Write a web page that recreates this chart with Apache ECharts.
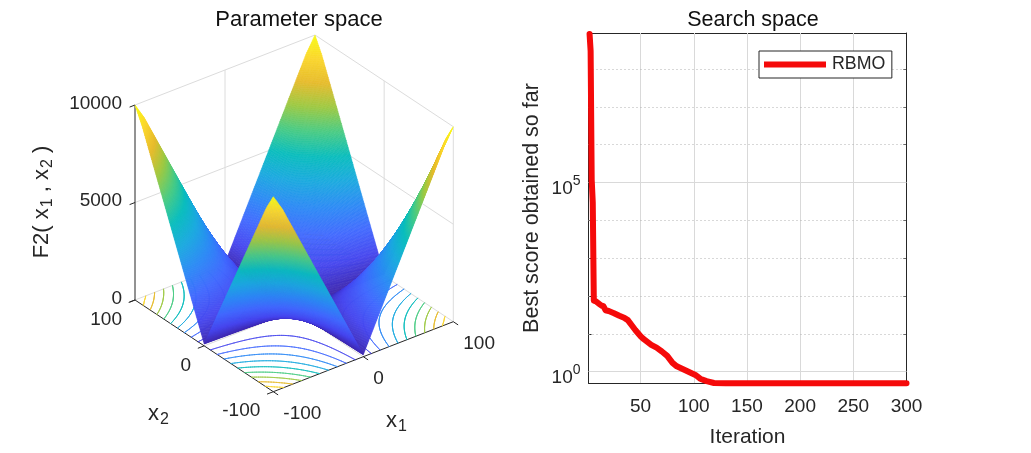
<!DOCTYPE html>
<html>
<head>
<meta charset="utf-8">
<style>html,body{margin:0;padding:0;background:#fff}#main{width:1031px;height:453px}</style>
<script src="https://cdn.jsdelivr.net/npm/echarts@6/dist/echarts.min.js"></script>
</head>
<body>
<div id="main"></div>
<script>
// surface heights for one quadrant, indexed by |x1| and |x2|
const gridStep = [0, 10, 20, 30, 40, 50, 60, 70, 80, 90, 100];
const surfaceZ = [
  [0, 10, 20, 30, 40, 50, 60, 70, 80, 90, 100],
  [10, 120, 230, 340, 450, 560, 670, 780, 890, 1000, 1110],
  [20, 230, 440, 650, 860, 1070, 1280, 1490, 1700, 1910, 2120],
  [30, 340, 650, 960, 1270, 1580, 1890, 2200, 2510, 2820, 3130],
  [40, 450, 860, 1270, 1680, 2090, 2500, 2910, 3320, 3730, 4140],
  [50, 560, 1070, 1580, 2090, 2600, 3110, 3620, 4130, 4640, 5150],
  [60, 670, 1280, 1890, 2500, 3110, 3720, 4330, 4940, 5550, 6160],
  [70, 780, 1490, 2200, 2910, 3620, 4330, 5040, 5750, 6460, 7170],
  [80, 890, 1700, 2510, 3320, 4130, 4940, 5750, 6560, 7370, 8180],
  [90, 1000, 1910, 2820, 3730, 4640, 5550, 6460, 7370, 8280, 9190],
  [100, 1110, 2120, 3130, 4140, 5150, 6160, 7170, 8180, 9190, 10000]
];
const contourLevels = [1000, 2000, 3000, 4000, 5000, 6000, 7000, 8000, 9000];
const zTicks = [0, 5000, 10000];
const floorTicks = [-100, 0, 100];
const parula = [[62, 38, 168], [71, 71, 238], [66, 105, 254], [45, 137, 245], [28, 169, 223], [11, 189, 189],
  [74, 203, 132], [157, 201, 67], [230, 187, 45], [250, 214, 45], [249, 251, 21]];

// convergence curve
const iterations = [2, 3, 4, 5, 6, 8, 11, 13, 15, 17, 20, 25, 30, 35, 38, 45, 50, 53, 60, 65, 70, 75, 80, 84, 90, 97, 102, 106, 112, 119, 130, 300];
const bestScore = [8.5e8, 3e8, 1.2e5, 3e4, 75, 72, 62, 56, 54, 42, 40, 35, 30, 26, 23, 12.6, 8.6, 7.2, 5.1, 4.3, 3.4, 2.6, 1.7, 1.38, 1.15, 0.93, 0.8, 0.65, 0.56, 0.5, 0.49, 0.49];
const xTicks = [50, 100, 150, 200, 250, 300];
const yDecades = [1, 10, 100, 1e3, 1e4, 1e5, 1e6, 1e7, 1e8];
const yLabelled = [1, 1e5];

const FONT = '"Liberation Sans", Arial, sans-serif';
const TEXT = '#262626';

// orthographic view, in pixels of the hidden grid
function project(x1, x2, z) {
  return [
    273.3 + (x1 + 100) * 0.9 - (x2 + 100) * 0.6915,
    391.7 - (x1 + 100) * 0.35 - (x2 + 100) * 0.4585 - z * 0.0195
  ];
}

function tableZ(x1, x2) {
  const a = Math.abs(x1) / 10, b = Math.abs(x2) / 10;
  const i = Math.min(Math.floor(a), gridStep.length - 2), j = Math.min(Math.floor(b), gridStep.length - 2);
  const u = a - i, v = b - j;
  return surfaceZ[i][j] * (1 - u) * (1 - v) + surfaceZ[i + 1][j] * u * (1 - v) +
    surfaceZ[i][j + 1] * (1 - u) * v + surfaceZ[i + 1][j + 1] * u * v;
}

function colorOf(z) {
  const t = Math.max(0, Math.min(1, z / 10000)) * (parula.length - 1);
  const i = Math.min(Math.floor(t), parula.length - 2), f = t - i;
  const c = parula[i].map((p, k) => Math.round(p + (parula[i + 1][k] - p) * f));
  return 'rgb(' + c.join(',') + ')';
}

// facets, far corner first so nearer ones paint over them
const nodes = [];
for (let v = 100; v >= -100; v -= 1) nodes.push(v);
const facets = [];
for (let i = 0; i < nodes.length - 1; i++) {
  for (let j = 0; j < nodes.length - 1; j++) {
    facets.push([nodes[i], nodes[i + 1], nodes[j], nodes[j + 1]]);
  }
}

// contour segments on the floor
const contourSegs = [];
function edgePoint(a, b, za, zb, level) {
  const t = (level - za) / (zb - za);
  return [a[0] + (b[0] - a[0]) * t, a[1] + (b[1] - a[1]) * t];
}
contourLevels.forEach(level => {
  facets.forEach(f => {
    const p = [[f[0], f[2]], [f[1], f[2]], [f[1], f[3]], [f[0], f[3]]];
    const z = p.map(q => tableZ(q[0], q[1]));
    const hits = [];
    for (let k = 0; k < 4; k++) {
      const n = (k + 1) % 4;
      if ((z[k] < level) !== (z[n] < level)) hits.push(edgePoint(p[k], p[n], z[k], z[n], level));
    }
    if (hits.length >= 2) contourSegs.push([hits[0][0], hits[0][1], hits[1][0], hits[1][1], level]);
  });
});

// box: [x1, x2, z, x1, x2, z, dark]
const frameSegs = [
  [-100, 100, 10000, 100, 100, 10000, 0], [100, 100, 10000, 100, -100, 10000, 0],
  [-100, 100, 5000, 100, 100, 5000, 0], [100, 100, 5000, 100, -100, 5000, 0],
  [0, 100, 0, 0, 100, 10000, 0], [100, 0, 0, 100, 0, 10000, 0],
  [100, 100, 0, 100, 100, 10000, 0], [100, -100, 0, 100, -100, 10000, 0],
  [-100, 100, 0, 100, 100, 0, 0], [100, 100, 0, 100, -100, 0, 0],
  [0, -100, 0, 0, 100, 0, 0], [-100, 0, 0, 100, 0, 0, 0],
  [-100, 100, 0, -100, 100, 10000, 1],
  [-100, -100, 0, 100, -100, 0, 1], [-100, -100, 0, -100, 100, 0, 1]
];
zTicks.forEach(z => frameSegs.push([-100, 100, z, -106, 100, z, 1]));
floorTicks.forEach(v => {
  frameSegs.push([v, -100, 0, v, -107, 0, 1]);
  frameSegs.push([-100, v, 0, -107, v, 0, 1]);
});

// tick labels: [text, x1, x2, z, dx, dy, align]
const tickTexts = [];
zTicks.forEach(z => tickTexts.push([String(z), -100, 100, z, -13, -1.5, 'right']));
floorTicks.forEach(v => {
  tickTexts.push([String(v), -100, v, 0, -13, 19.5, 'right']);
  tickTexts.push([String(v), v, -100, 0, 10, 22, 'left']);
});

const subRich = {
  a: { fontFamily: FONT, fontSize: 22, color: TEXT },
  s: { fontFamily: FONT, fontSize: 16, color: TEXT, padding: [11, 0, 0, 1] }
};

const option = {
  animation: false,
  backgroundColor: '#fff',
  textStyle: { fontFamily: FONT },
  title: [
    { text: 'Parameter space', left: 294, top: 4, textAlign: 'center', textStyle: { fontFamily: FONT, fontSize: 22, fontWeight: 'normal', color: '#111' } },
    { text: 'Search space', left: 748, top: 4, textAlign: 'center', textStyle: { fontFamily: FONT, fontSize: 21.5, fontWeight: 'normal', color: '#111' } }
  ],
  legend: {
    left: 759, top: 51, orient: 'vertical', padding: [4.5, 6.5, 4.5, 5],
    data: [{ name: 'RBMO', icon: 'rect' }],
    itemWidth: 62, itemHeight: 6, itemGap: 0,
    borderColor: '#262626', borderWidth: 1, backgroundColor: '#fff',
    textStyle: { fontFamily: FONT, fontSize: 17.8, color: TEXT, padding: [0, 0, 0, 1] }
  },
  grid: [
    { left: 0, top: 0, width: 500, height: 453, show: false },
    { left: 588.5, top: 33, width: 318, height: 358, show: false }
  ],
  xAxis: [
    { gridIndex: 0, type: 'value', min: 0, max: 500, show: false },
    {
      gridIndex: 1, type: 'value', min: 1, max: 300, position: 'bottom',
      name: 'Iteration', nameLocation: 'middle', nameGap: 44,
      nameTextStyle: { fontFamily: FONT, fontSize: 21, color: TEXT },
      axisLine: { onZero: false, lineStyle: { color: TEXT, width: 1 } },
      axisTick: { inside: true, length: 3, customValues: xTicks, lineStyle: { color: TEXT } },
      axisLabel: { customValues: xTicks, margin: 14, fontFamily: FONT, fontSize: 19, color: TEXT },
      splitLine: { show: false }
    },
    {
      gridIndex: 1, type: 'value', min: 1, max: 300, position: 'top',
      axisLine: { onZero: false, lineStyle: { color: TEXT, width: 1 } },
      axisTick: { inside: true, length: 3, customValues: xTicks, lineStyle: { color: TEXT } },
      axisLabel: { show: false }, splitLine: { show: false }
    }
  ],
  yAxis: [
    { gridIndex: 0, type: 'value', min: 0, max: 453, inverse: true, show: false },
    {
      gridIndex: 1, type: 'log', logBase: 10, min: 0.5, max: 9e8, position: 'left',
      name: 'Best score obtained so far', nameLocation: 'middle', nameGap: 45,
      nameTextStyle: { fontFamily: FONT, fontSize: 21.5, color: TEXT },
      axisLine: { onZero: false, show: true, lineStyle: { color: TEXT, width: 1 } },
      axisTick: { show: true, inside: true, length: 3, customValues: yDecades, lineStyle: { color: TEXT } },
      axisLabel: {
        customValues: yLabelled, margin: 8,
        formatter: v => '{b|10}{e|' + Math.round(Math.log10(v)) + '}',
        rich: {
          b: { fontFamily: FONT, fontSize: 19, color: TEXT, padding: [12, 0, 0, 0] },
          e: { fontFamily: FONT, fontSize: 14, color: TEXT, padding: [0, 0, 3, 0] }
        }
      },
      splitLine: { show: false }
    },
    {
      gridIndex: 1, type: 'log', logBase: 10, min: 0.5, max: 9e8, position: 'right',
      axisLine: { onZero: false, show: true, lineStyle: { color: TEXT, width: 1 } },
      axisTick: { show: true, inside: true, length: 3, customValues: yDecades, lineStyle: { color: TEXT } },
      axisLabel: { show: false }, splitLine: { show: false }
    }
  ],
  series: [
    {
      type: 'custom', name: 'frame', xAxisIndex: 0, yAxisIndex: 0, silent: true, clip: false, progressive: 0,
      data: frameSegs.map((s, i) => [i]),
      renderItem: (params, api) => {
        const s = frameSegs[params.dataIndex];
        const a = api.coord(project(s[0], s[1], s[2])), b = api.coord(project(s[3], s[4], s[5]));
        return { type: 'line', shape: { x1: a[0], y1: a[1], x2: b[0], y2: b[1] },
          style: { stroke: s[6] ? TEXT : '#dcdcdc', lineWidth: 1 } };
      }
    },
    {
      type: 'custom', name: 'contour', xAxisIndex: 0, yAxisIndex: 0, silent: true, clip: false, progressive: 0,
      data: contourSegs.map((s, i) => [i]),
      renderItem: (params, api) => {
        const s = contourSegs[params.dataIndex];
        const a = api.coord(project(s[0], s[1], 0)), b = api.coord(project(s[2], s[3], 0));
        return { type: 'line', shape: { x1: a[0], y1: a[1], x2: b[0], y2: b[1] },
          style: { stroke: colorOf(s[4]), lineWidth: 0.8, lineCap: 'round' } };
      }
    },
    {
      type: 'custom', name: 'surface', xAxisIndex: 0, yAxisIndex: 0, silent: true, clip: false, progressive: 0,
      data: facets.map((f, i) => [i]),
      renderItem: (params, api) => {
        const f = facets[params.dataIndex];
        const corners = [[f[0], f[2]], [f[1], f[2]], [f[1], f[3]], [f[0], f[3]]];
        let sum = 0;
        const pts = corners.map(c => {
          const z = tableZ(c[0], c[1]);
          sum += z;
          return api.coord(project(c[0], c[1], z));
        });
        const col = colorOf(sum / 4);
        return { type: 'polygon', shape: { points: pts }, style: { fill: col, stroke: col, lineWidth: 0.5 } };
      }
    },
    {
      type: 'custom', name: 'ticks', xAxisIndex: 0, yAxisIndex: 0, silent: true, clip: false, progressive: 0,
      data: tickTexts.map((t, i) => [i]),
      renderItem: (params, api) => {
        const t = tickTexts[params.dataIndex];
        const p = api.coord(project(t[1], t[2], t[3]));
        return { type: 'text', x: p[0] + t[4], y: p[1] + t[5],
          style: { text: t[0], fontFamily: FONT, fontSize: 19, fill: TEXT, textAlign: t[6], textVerticalAlign: 'middle' } };
      }
    },
    {
      type: 'line', name: 'gridlines', xAxisIndex: 1, yAxisIndex: 1, data: [], silent: true, z: 1,
      markLine: {
        silent: true, symbol: 'none', label: { show: false }, animation: false, z: 1,
        data: xTicks.slice(0, -1).map(v => ({ xAxis: v, lineStyle: { color: '#d9d9d9', width: 1, type: 'solid' } }))
          .concat(yDecades.map(v => ({
            yAxis: v,
            lineStyle: yLabelled.includes(v) ? { color: '#d9d9d9', width: 1, type: 'solid' } : { color: '#b0b0b0', width: 1, type: [1, 3] }
          })))
      }
    },
    {
      type: 'line', name: 'RBMO', xAxisIndex: 1, yAxisIndex: 1, clip: false, z: 3,
      data: iterations.map((v, i) => [v, bestScore[i]]),
      showSymbol: false, symbol: 'none', smooth: false,
      itemStyle: { color: '#f50a0a' },
      lineStyle: { color: '#f50a0a', width: 6, cap: 'round', join: 'round' }
    }
  ],
  graphic: [
    { type: 'text', x: 42, y: 202, rotation: Math.PI / 2, originX: 0, originY: 0,
      style: { text: '{a|F2( x}{s|1}{a| , x}{s|2}{a| )}', rich: subRich, fontFamily: FONT, align: 'center', verticalAlign: 'middle', textAlign: 'center', textVerticalAlign: 'middle', fill: TEXT } },
    { type: 'text', x: 148, y: 414, style: { text: '{a|x}{s|2}', rich: subRich, fill: TEXT, textVerticalAlign: 'middle' } },
    { type: 'text', x: 386, y: 421, style: { text: '{a|x}{s|1}', rich: subRich, fill: TEXT, textVerticalAlign: 'middle' } }
  ]
};

echarts.init(document.getElementById('main'), null, { renderer: 'canvas' }).setOption(option);
</script>
</body>
</html>
